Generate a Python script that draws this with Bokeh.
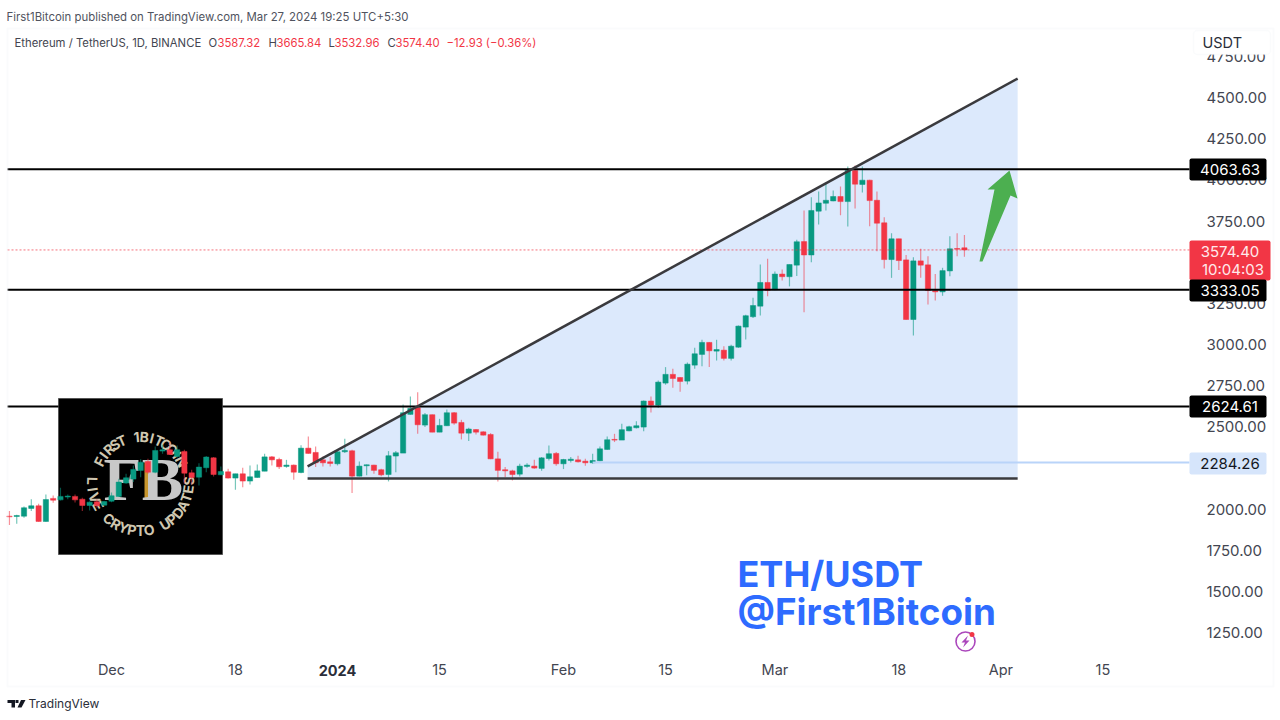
import math
from bokeh.plotting import figure
from bokeh.models import Range1d, FixedTicker, Label, PolyAnnotation, LinearAxis, BoxAnnotation
from bokeh.embed import file_html
from bokeh.resources import INLINE

# ---- data (day 0 = 1 Dec 2023, prices in USDT) ----
first_day = -14
opens = [1958,1956,1958,2005,2021,1926,2066,2057,2074,2078,2061,2023,2045,2025,
 2049,2078,2159,2183,2236,2290,2225,2353,2361,2321,2351,2221,2195,2252,2312,2209,2227,2189,2215,2171,2193,
 2231,2318,2302,2260,2268,2223,2371,2345,2300,2288,2276,2349,2355,2201,2264,2268,2240,2211,2323,2341,2576,
 2616,2511,2574,2468,2507,2586,2527,2462,2484,2470,2454,2306,2240,2233,2213,2260,2262,2248,2308,2339,2276,
 2296,2300,2292,2282,2294,2363,2424,2420,2476,2495,2499,2657,2632,2766,2819,2800,2778,2875,2940,3013,2960,
 2966,2916,2984,3106,3169,3233,3377,3333,3428,3412,3482,3625,3544,3810,3858,3872,3899,3868,4057,3972,3998,
 3876,3739,3516,3642,3514,3152,3508,3484,3328,3320,3447,3583,3587.32]
highs = [1989,1966,2017,2061,2033,2090,2084,2130,2090,2090,2070,2049,2061,2049,
 2102,2185,2215,2266,2304,2306,2381,2391,2408,2387,2361,2240,2280,2323,2317,2260,2246,2215,2252,2266,2272,
 2337,2323,2312,2300,2272,2389,2442,2381,2321,2317,2353,2428,2361,2290,2272,2270,2246,2353,2353,2636,2685,
 2711,2584,2576,2549,2606,2590,2543,2495,2487,2474,2462,2349,2256,2240,2276,2280,2300,2318,2387,2347,2306,
 2317,2325,2306,2337,2381,2442,2458,2519,2507,2535,2661,2685,2782,2863,2853,2802,2891,2980,3029,3015,3029,
 2989,2999,3116,3181,3284,3486,3521,3444,3456,3486,3636,3814,3895,3929,3982,3935,3959,4081,4087,4081,4000,
 3929,3773,3676,3642,3544,3530,3581,3536,3429,3466,3658,3676,3665.84]
lows = [1904,1912,1948,1989,1924,1924,2039,2053,2061,2041,1989,1993,2009,2023,
 2043,2074,2155,2165,2195,2215,2219,2337,2329,2312,2155,2151,2144,2225,2199,2209,2187,2118,2134,2151,2191,
 2231,2266,2244,2252,2179,2219,2337,2256,2260,2260,2266,2341,2098,2199,2207,2215,2201,2169,2225,2341,2574,
 2458,2499,2468,2468,2505,2513,2424,2414,2454,2448,2304,2169,2195,2175,2199,2252,2246,2233,2296,2264,2244,
 2284,2284,2264,2276,2292,2361,2408,2420,2474,2491,2474,2588,2616,2756,2737,2713,2758,2853,2869,2863,2903,
 2903,2903,2980,3031,3161,3177,3294,3329,3389,3353,3416,3196,3500,3729,3814,3870,3785,3717,3826,3923,3719,
 3567,3462,3405,3453,3150,3055,3405,3243,3267,3296,3415,3536,3532.96]
closes = [1954,1962,2009,2021,1926,2059,2055,2078,2080,2057,2023,2043,2021,2047,
 2082,2165,2191,2242,2286,2225,2357,2361,2333,2361,2219,2193,2256,2317,2211,2229,2189,2215,2171,2197,2233,
 2318,2300,2258,2268,2225,2371,2339,2282,2282,2278,2349,2357,2201,2262,2270,2236,2209,2325,2343,2586,2612,
 2513,2574,2468,2509,2586,2523,2462,2487,2468,2450,2306,2236,2233,2211,2262,2268,2250,2312,2337,2276,2302,
 2304,2288,2282,2296,2367,2422,2420,2483,2501,2507,2657,2632,2772,2819,2794,2776,2881,2944,3013,2962,2970,
 2916,2990,3112,3175,3237,3377,3329,3428,3412,3486,3624,3544,3814,3860,3876,3899,3868,4057,3974,3998,3874,
 3737,3516,3642,3510,3152,3508,3482,3328,3320,3449,3581,3579,3574.40]

level_prices = [4063.63, 3333.05, 2624.61]
level_labels = ["4063.63", "3333.05", "2624.61"]
light_price, light_label = 2284.26, "2284.26"
last_price, last_label, countdown = 3574.40, "3574.40", "10:04:03"

price_ticks = [1250,1500,1750,2000,2250,2500,2750,3000,3250,3500,3750,4000,4250,4500,4750]
time_ticks = [0, 17, 45, 62, 76, 91, 108, 122, 136]
time_labels = ["Dec", "18", "15", "Feb", "15", "Mar", "18", "Apr", "15"]
year_tick, year_label = 31, "2024"

wedge_days = [26.9, 124.3, 124.3, 26.9]
wedge_prices = [2260, 4615, 2187, 2187]

GREEN, RED = "#089981", "#f23645"

# reference-pixel helpers for decorations
X = lambda px: (px - 111) / 7.29
Y = lambda py: 4500 - (py - 97) / 0.1647
PY = lambda price: 97 + (4500 - price) * 0.1647

p = figure(width=1280, height=720, output_backend="svg", toolbar_location=None, tools="",
           x_range=Range1d(X(0), X(1280)), y_range=Range1d(Y(720), Y(0)),
           x_axis_location=None, y_axis_location=None,
           min_border=0, min_border_left=0, min_border_top=0, min_border_bottom=0, min_border_right=0,
           outline_line_color=None, background_fill_color="white", border_fill_color="white")
p.grid.visible = False

ax = LinearAxis(fixed_location=X(1189), ticker=FixedTicker(ticks=price_ticks),
                major_label_overrides={t: f"{t}.00" for t in price_ticks},
                axis_line_color=None, major_tick_line_color=None, minor_tick_line_color=None,
                major_label_standoff=11, major_label_text_font="Inter", major_label_text_font_size="15px",
                major_label_text_color="#434651")
p.add_layout(ax, "right")
tx = LinearAxis(fixed_location=Y(649), ticker=FixedTicker(ticks=time_ticks),
                major_label_overrides=dict(zip(time_ticks, time_labels)),
                axis_line_color=None, major_tick_line_color=None, minor_tick_line_color=None,
                major_label_standoff=5, major_label_text_font="Inter", major_label_text_font_size="14.5px",
                major_label_text_color="#434651")
p.add_layout(tx, "below")

# shaded wedge
p.patch(wedge_days, wedge_prices, fill_color="#dce9fc", line_color=None)

# logo
p.quad(left=X(58), right=X(222), top=Y(398), bottom=Y(554), fill_color="black", line_color="#555555", line_width=1)
cx, cy = 140, 482
top_arc, bot_arc = "FIRST 1BITCOIN", "LIVE CRYPTO UPDATES"
xs, ys, ang, ch = [], [], [], []
for i, c in enumerate(top_arc):
    a = -63 + i * 126 / (len(top_arc) - 1)
    r = math.radians(a)
    xs.append(X(cx + 46 * math.sin(r))); ys.append(Y(cy - 46 * math.cos(r))); ang.append(-r); ch.append(c)
for i, c in enumerate(bot_arc):
    a = -92 + i * 184 / (len(bot_arc) - 1)
    r = math.radians(a)
    xs.append(X(cx + 48 * math.sin(r))); ys.append(Y(cy + 48 * math.cos(r))); ang.append(r); ch.append(c)
p.text(xs, ys, text=ch, angle=ang, text_font={"value": "Inter"}, text_font_style="bold", text_font_size="14px",
       text_color="#cfc7b0", text_align="center", text_baseline="middle")
p.text([X(122)], [Y(478)], text=["F"], text_font={"value": "Liberation Serif"}, text_font_style="bold", text_font_size="62px",
       text_color="#c8c8c8", text_align="center", text_baseline="middle")
p.quad(left=X(144), right=X(156), top=Y(462), bottom=Y(498), fill_color="#c8962e", line_color=None)
p.text([X(162)], [Y(478)], text=["B"], text_font={"value": "Liberation Serif"}, text_font_style="bold", text_font_size="62px",
       text_color="#c8c8c8", text_align="center", text_baseline="middle")

# candles
days = [first_day + i for i in range(len(opens))]
cols = [GREEN if c >= o else RED for o, c in zip(opens, closes)]
p.segment(days, highs, days, lows, line_color=cols, line_width=1.2, line_alpha=0.55)
p.vbar(x=days, width=0.72, top=[max(o, c) for o, c in zip(opens, closes)],
       bottom=[min(o, c) for o, c in zip(opens, closes)], fill_color=cols, line_color=cols, line_width=0.5)

# last price dotted
p.line([X(7), X(1189)], [last_price, last_price], line_color=RED, line_width=1, line_alpha=0.7, line_dash=[2, 2])
# light level
p.line([66, X(1189)], [light_price, light_price], line_color="#b9d4f9", line_width=2)
# horizontal levels
p.line([X(7), X(1189)], [level_prices[0]] * 2, line_color="black", line_width=2)
p.line([X(7), X(1189)], [level_prices[1]] * 2, line_color="black", line_width=2)
p.segment([X(7), X(222)], [level_prices[2]] * 2, [X(58), X(1189)], [level_prices[2]] * 2, line_color="black", line_width=2)
# trend and base lines
p.line(wedge_days[:2], wedge_prices[:2], line_color="#3a3a3e", line_width=2.5)
p.line(wedge_days[2:], wedge_prices[2:], line_color="#3a3a3e", line_width=2.5)
# arrow
p.patch([X(v) for v in (979, 994, 987, 1009, 1017, 1010, 982)],
        [Y(v) for v in (261, 189, 189, 170, 198, 195, 261)], fill_color="#4caf50", line_color=None)
# badge
p.scatter([X(965)], [Y(641)], size=19, fill_color=None, line_color="#ab47bc", line_width=1.6)
p.patch([X(v) for v in (967.5, 961, 964.5, 962.5, 969, 965.5)],
        [Y(v) for v in (635, 642, 642, 647, 640, 640)], fill_color="#ab47bc", line_color=None)
p.scatter([X(971.5)], [Y(634)], size=5, fill_color="#f23645", line_color=None)


def lab(text, px, py, size, color, align="left", style="normal"):
    p.add_layout(Label(x=X(px), y=Y(py), text=text, text_font="Inter", text_font_size=f"{size}px", text_color=color,
                       text_align=align, text_baseline="middle", text_font_style=style))


def box(x0, x1, y0, y1, fill, border=None, radius=2):
    p.add_layout(BoxAnnotation(left=X(x0), right=X(x1), top=Y(y0), bottom=Y(y1), fill_color=fill, fill_alpha=1,
                               line_color=border, line_width=1.5 if border else 0, border_radius=radius, level="annotation"))


# frame
p.add_layout(PolyAnnotation(xs=[X(7), X(1273), X(1273), X(7), X(7)], ys=[Y(28), Y(28), Y(686), Y(686), Y(28)],
                            fill_color=None, fill_alpha=0, line_color="#eff1f6", line_width=2))

# watermark
lab("ETH/USDT", 737, 573, 36, "#2e6bff", style="bold")
lab("@First1Bitcoin", 737, 611, 36.8, "#2e6bff", style="bold")

# header
lab("First1Bitcoin published on TradingView.com, Mar 27, 2024 19:25 UTC+5:30", 6, 16, 11.4, "#50535e")
lab("Ethereum / TetherUS, 1D, BINANCE", 14, 42, 11.3, "#434651")
for t, x, c in [("O", 208, "#434651"), ("3587.32", 217, RED), ("H", 268, "#434651"), ("3665.84", 276, RED),
                ("L", 328, "#434651"), ("3532.96", 334, RED), ("C", 387, "#434651"), ("3574.40", 395, RED),
                ("\u221212.93 (\u22120.36%)", 446, RED)]:
    lab(t, x, 42, 11.3, c)

# 2024 tick
lab(year_label, 337, 670, 14.5, "#2a2e39", align="center", style="bold")

# price tags
box(1193, 1270, 30, 54, "white", "#eff1f6", 4)
lab("USDT", 1202, 42, 14.5, "#2a2e39")
box(1189, 1270, 240, 280, RED)
lab(last_label, 1229.5, 251, 15, "#ffe9eb", align="center")
lab(countdown, 1232.5, 269, 15, "#ffe9eb", align="center")
for price, text in zip(level_prices, level_labels):
    yc = round(PY(price) + 0.6)
    box(1189, 1266, yc - 11, yc + 11, "black")
    lab(text, 1229.5, yc, 15, "white", align="center")
yc = round(PY(light_price) + 0.6)
box(1189, 1266, yc - 11, yc + 11, "#d6e5fb")
lab(light_label, 1229.5, yc, 15, "#131722", align="center")

# footer
p.add_layout(PolyAnnotation(xs=[X(v) for v in (7, 14.5, 14.5, 11, 11, 7)], ys=[Y(v) for v in (699.5, 699.5, 707, 707, 702.5, 702.5)],
                            fill_color="#131722", fill_alpha=1, line_color=None))
p.add_layout(PolyAnnotation(xs=[X(v) for v in (15, 18, 18, 15)], ys=[Y(v) for v in (699.5, 699.5, 702.5, 702.5)],
                            fill_color="#131722", fill_alpha=1, line_color=None))
p.add_layout(PolyAnnotation(xs=[X(v) for v in (20.5, 25, 21, 17)], ys=[Y(v) for v in (699.5, 699.5, 707, 707)],
                            fill_color="#131722", fill_alpha=1, line_color=None))
lab("TradingView", 28, 703, 12, "#2a2e39")

open("out.html", "w").write(file_html(p, INLINE))
